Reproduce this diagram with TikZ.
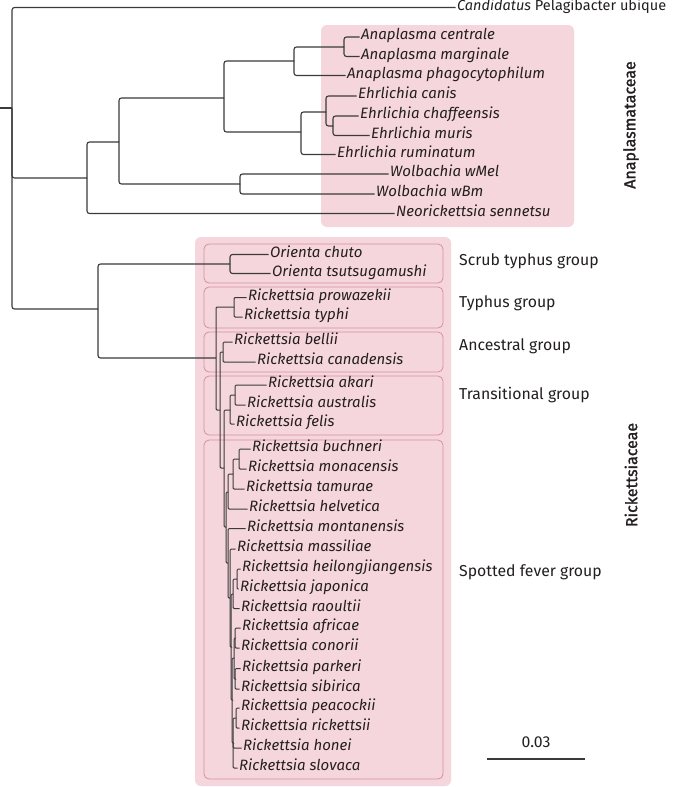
\documentclass[tikz,border=0pt]{standalone}
\usepackage{fontspec}
\setmainfont{Fira Sans}
\IfFontExistsTF{FiraSans-Medium.otf}{\newfontfamily\famfont{FiraSans-Medium.otf}}{\newfontfamily\famfont{Fira Sans}[FakeBold=1.5]}
\definecolor{linec}{HTML}{3A3A3A}
\definecolor{textc}{HTML}{231F20}
\definecolor{pinkf}{HTML}{F6D6DD}
\definecolor{pinkd}{HTML}{D68EA1}
\begin{document}
\begin{tikzpicture}[x=1pt,y=-1pt,
  br/.style={draw=linec, line width=1.1pt, rounded corners=2.5pt},
  sbr/.style={draw=linec, line width=1.0pt, rounded corners=1.2pt},
  leaf/.style={anchor=west, inner xsep=1.5pt, inner ysep=0pt, text=textc,
    font=\fontsize{15}{17}\selectfont\itshape, text height=0.72em, text depth=0.22em},
  grp/.style={anchor=west, inner sep=0pt, text=textc,
    font=\fontsize{15.8}{18}\selectfont, text height=0.72em, text depth=0.22em},
  fam/.style={rotate=90, inner sep=0pt, text=textc, font=\fontsize{16}{18}\famfont},
  bigbox/.style={fill=pinkf, draw=none, rounded corners=6pt},
  subbox/.style={fill=pinkf, draw=pinkd, line width=0.8pt, rounded corners=5pt}
]
\useasboundingbox (0,0) rectangle (685,787);
\fill[white] (0,0) rectangle (685,787);

% family boxes
\path[bigbox] (321,25) rectangle (574,227);
\path[bigbox] (195,237) rectangle (451,786);
\path[subbox] (204,244) rectangle (443,283);
\path[subbox] (204,287) rectangle (443,328);
\path[subbox] (204,332) rectangle (443,372);
\path[subbox] (204,376) rectangle (443,435);
\path[subbox] (204,440) rectangle (443,779);

% ---------- leaves: Anaplasmataceae ----------
\node[leaf, font=\fontsize{14.5}{17}\selectfont\itshape] (pel) at (455.5,7.5) {\textit{Candidatus}\upshape\ Pelagibacter ubique};
\node[leaf] (cen) at (359.5,37) {Anaplasma centrale};
\node[leaf] (mar) at (359.5,56.5) {Anaplasma marginale};
\node[leaf] (pha) at (345.5,75.5) {Anaplasma phagocytophilum};
\node[leaf] (can) at (356.5,96) {Ehrlichia canis};
\node[leaf] (cha) at (358.5,116) {Ehrlichia chaffeensis};
\node[leaf] (mur) at (369.5,135.5) {Ehrlichia muris};
\node[leaf] (rum) at (335.5,154.5) {Ehrlichia ruminatum};
\node[leaf] (wme) at (388.5,174) {Wolbachia wMel};
\node[leaf] (wbm) at (374.5,194) {Wolbachia wBm};
\node[leaf] (neo) at (394.5,213.5) {Neorickettsia sennetsu};

% ---------- leaves: Rickettsiaceae ----------
\node[leaf] (chu) at (268.5,254.5) {Orienta chuto};
\node[leaf] (tsu) at (270.5,273.5) {Orienta tsutsugamushi};
\node[leaf] (pro) at (246.5,297.5) {Rickettsia prowazekii};
\node[leaf] (typ) at (242.5,317) {Rickettsia typhi};
\node[leaf] (bel) at (232.5,342) {Rickettsia bellii};
\node[leaf] (cnd) at (255.5,362) {Rickettsia canadensis};
\node[leaf] (aka) at (266.5,385) {Rickettsia akari};
\node[leaf] (aus) at (245.5,405) {Rickettsia australis};
\node[leaf] (fel) at (234.5,424) {Rickettsia felis};
\node[leaf] (buc) at (250.5,449) {Rickettsia buchneri};
\node[leaf] (mon) at (246.5,469) {Rickettsia monacensis};
\node[leaf] (tam) at (244.5,489) {Rickettsia tamurae};
\node[leaf] (hel) at (247.5,509) {Rickettsia helvetica};
\node[leaf] (mta) at (245.5,528.5) {Rickettsia montanensis};
\node[leaf] (mas) at (235.5,549) {Rickettsia massiliae};
\node[leaf] (hei) at (240.5,569) {Rickettsia heilongjiangensis};
\node[leaf] (jap) at (238.5,589) {Rickettsia japonica};
\node[leaf] (rao) at (239.5,608.5) {Rickettsia raoultii};
\node[leaf] (afr) at (240.5,628) {Rickettsia africae};
\node[leaf] (con) at (239.5,648) {Rickettsia conorii};
\node[leaf] (par) at (240.5,668.5) {Rickettsia parkeri};
\node[leaf] (sib) at (239.5,689) {Rickettsia sibirica};
\node[leaf] (pea) at (239.5,708) {Rickettsia peacockii};
\node[leaf] (ric) at (239.5,728) {Rickettsia rickettsii};
\node[leaf] (hon) at (241.5,748) {Rickettsia honei};
\node[leaf] (slo) at (237.5,768) {Rickettsia slovaca};

% ---------- group and family labels ----------
\node[grp] (g1) at (459,263) {Scrub typhus group};
\node[grp] (g2) at (459,305) {Typhus group};
\node[grp] (g3) at (459,348) {Ancestral group};
\node[grp] (g4) at (459,397) {Transitional group};
\node[grp] (g5) at (459,574) {Spotted fever group};
\node[fam] (fa) at (631,125) {Anaplasmataceae};
\node[fam] (fr) at (631,475) {Rickettsiaceae};

% ---------- internal nodes ----------
\coordinate (stub) at (0,108);
\coordinate (root) at (12,108);
\coordinate (ana) at (87,178);
\coordinate (n1) at (119,142);
\coordinate (n2) at (224,98);
\coordinate (wol) at (240,184);
\coordinate (anap) at (294,61);
\coordinate (cm) at (344,47);
\coordinate (ehr) at (301,132);
\coordinate (ehr2) at (326,112);
\coordinate (ehr3) at (333,126);

\coordinate (rick) at (98,309);
\coordinate (ori) at (230,264);
\coordinate (R) at (216,358);
\coordinate (T) at (234,307);
\coordinate (R2) at (220,410);
\coordinate (Anc) at (223,352);
\coordinate (R3) at (224,468);
\coordinate (Tr) at (230,410);
\coordinate (Tr2) at (235,395);
\coordinate (S) at (226,527);
\coordinate (A) at (228,492);
\coordinate (A1) at (233,474);
\coordinate (A2) at (239,459);
\coordinate (B) at (228,563);
\coordinate (B1) at (230,598);
\coordinate (B2) at (231,647);
\coordinate (C) at (233,594);
\coordinate (C1) at (237,579);
\coordinate (D) at (232,700);
\coordinate (Af) at (234,658);
\coordinate (Af1) at (235,638);
\coordinate (Af2) at (235,679);
\coordinate (D1) at (233,743);
\coordinate (PR) at (236,718);

% ---------- branches: Anaplasmataceae ----------
\draw[br] (stub) -- (root);
\draw[br] (root) |- (pel.west);
\draw[br] (root) |- (ana);
\draw[br] (root) |- (rick);
\draw[br] (ana) |- (n1);
\draw[br] (ana) |- (neo.west);
\draw[br] (n1) |- (n2);
\draw[br] (n1) |- (wol);
\draw[br] (wol) |- (wme.west);
\draw[br] (wol) |- (wbm.west);
\draw[br] (n2) |- (anap);
\draw[br] (n2) |- (ehr);
\draw[br] (anap) |- (cm);
\draw[br] (anap) |- (pha.west);
\draw[br] (cm) |- (cen.west);
\draw[br] (cm) |- (mar.west);
\draw[br] (ehr) |- (ehr2);
\draw[br] (ehr) |- (rum.west);
\draw[br] (ehr2) |- (can.west);
\draw[br] (ehr2) |- (ehr3);
\draw[br] (ehr3) |- (cha.west);
\draw[br] (ehr3) |- (mur.west);

% ---------- branches: Rickettsiaceae ----------
\draw[br] (rick) |- (ori);
\draw[br] (rick) |- (R);
\draw[br] (ori) |- (chu.west);
\draw[br] (ori) |- (tsu.west);
\draw[sbr] (R) |- (T);
\draw[sbr] (R) |- (R2);
\draw[sbr] (T) |- (pro.west);
\draw[sbr] (T) |- (typ.west);
\draw[sbr] (R2) |- (Anc);
\draw[sbr] (R2) |- (R3);
\draw[sbr] (Anc) |- (bel.west);
\draw[sbr] (Anc) |- (cnd.west);
\draw[sbr] (R3) |- (Tr);
\draw[sbr] (R3) |- (S);
\draw[sbr] (Tr) |- (Tr2);
\draw[sbr] (Tr) |- (fel.west);
\draw[sbr] (Tr2) |- (aka.west);
\draw[sbr] (Tr2) |- (aus.west);
\draw[sbr] (S) |- (A);
\draw[sbr] (S) |- (B);
\draw[sbr] (A) |- (A1);
\draw[sbr] (A) |- (hel.west);
\draw[sbr] (A1) |- (A2);
\draw[sbr] (A1) |- (tam.west);
\draw[sbr] (A2) |- (buc.west);
\draw[sbr] (A2) |- (mon.west);
\draw[sbr] (B) |- (mta.west);
\draw[sbr] (B) |- (B1);
\draw[sbr] (B1) |- (mas.west);
\draw[sbr] (B1) |- (B2);
\draw[sbr] (B2) |- (C);
\draw[sbr] (B2) |- (D);
\draw[sbr] (C) |- (C1);
\draw[sbr] (C) |- (rao.west);
\draw[sbr] (C1) |- (hei.west);
\draw[sbr] (C1) |- (jap.west);
\draw[sbr] (D) |- (Af);
\draw[sbr] (D) |- (D1);
\draw[sbr] (Af) |- (Af1);
\draw[sbr] (Af) |- (Af2);
\draw[sbr] (Af1) |- (afr.west);
\draw[sbr] (Af1) |- (con.west);
\draw[sbr] (Af2) |- (par.west);
\draw[sbr] (Af2) |- (sib.west);
\draw[sbr] (D1) |- (PR);
\draw[sbr] (D1) |- (hon.west);
\draw[sbr] (D1) |- (slo.west);
\draw[sbr] (PR) |- (pea.west);
\draw[sbr] (PR) |- (ric.west);

% ---------- scale bar ----------
\coordinate (sb1) at (487,759);
\coordinate (sb2) at (585,759);
\draw[draw=linec, line width=1.1pt] (sb1) -- (sb2);
\node[grp, anchor=center] (sbl) at (536,745) {0.03};
\end{tikzpicture}
\end{document}
